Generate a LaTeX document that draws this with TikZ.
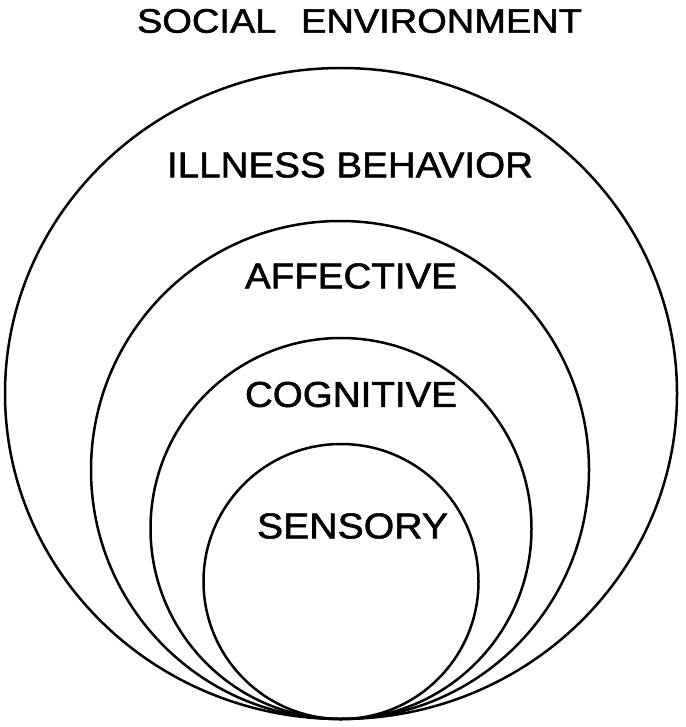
\documentclass[tikz,border=0pt]{standalone}
\usepackage{fontspec}
\usepackage{graphicx}
\setmainfont{Liberation Sans}
\newfontfamily\labelfont[FakeBold=1.4]{Liberation Sans}
\tikzset{
  ring/.style={draw=black, line width=2.5pt},
  lbl/.style={inner sep=0pt, font=\labelfont\fontsize{36}{40}\selectfont, text=black}
}
\newcommand{\fitw}[2]{\resizebox{#1}{\height}{#2}}
\begin{document}
\begin{tikzpicture}[x=1pt, y=-1pt]
  \useasboundingbox (0,0) rectangle (685,727);
  % rings, all touching at the bottom point (341,719)
  \coordinate (touch) at (341,719);
  \draw[ring] (341,393.5) ellipse [x radius=336, y radius=325.5];
  \draw[ring] (340,470) circle [radius=249];
  \draw[ring] (341,528.5) circle [radius=190.5];
  \draw[ring] (341,581.5) circle [radius=137.5];
  % labels
  \node[lbl, font=\labelfont\fontsize{34}{38}\selectfont] (social) at (359.5,21) {\fitw{445pt}{SOCIAL\hspace{22pt}ENVIRONMENT}};
  \node[lbl] (illness) at (350,165) {\fitw{366pt}{ILLNESS BEHAVIOR}};
  \node[lbl] (affective) at (351,276) {\fitw{212pt}{AFFECTIVE}};
  \node[lbl] (cognitive) at (351,394.5) {\fitw{212pt}{COGNITIVE}};
  \node[lbl] (sensory) at (352.5,526) {\fitw{191pt}{SENSORY}};
\end{tikzpicture}
\end{document}
